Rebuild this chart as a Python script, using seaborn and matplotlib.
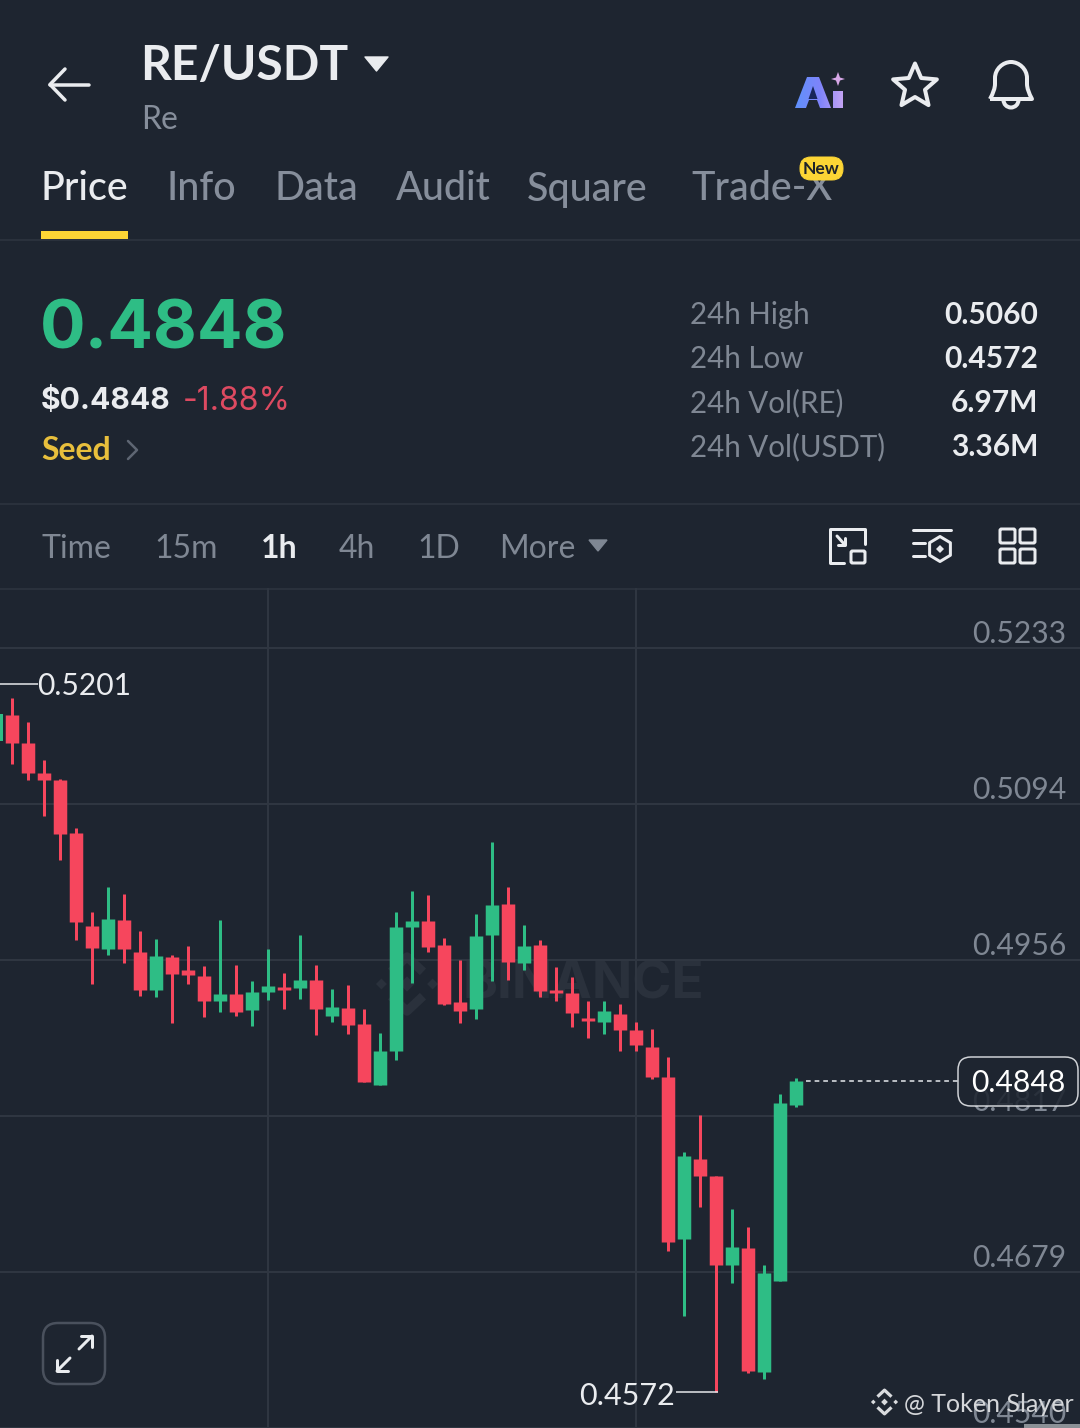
import matplotlib
matplotlib.use("Agg")
import matplotlib.pyplot as plt
import numpy as np
import pandas as pd
import seaborn as sns
from matplotlib.colors import LinearSegmentedColormap
from matplotlib.patches import Arc, FancyBboxPatch, PathPatch, Polygon, Rectangle
from matplotlib.path import Path

# hourly candles, left edge to last one
slots = list(range(-1, 50))
opens = [0.51506, 0.51735, 0.51483, 0.51217, 0.51157, 0.50684, 0.4986, 0.49653, 0.49913, 0.49629,
         0.49291, 0.49582, 0.49472, 0.49413, 0.49191, 0.49253, 0.49114, 0.49274, 0.49321, 0.49312,
         0.4938, 0.4906, 0.49131, 0.48989, 0.4845, 0.48752, 0.49854, 0.49904, 0.49691, 0.49182,
         0.49123, 0.49783, 0.50055, 0.49531, 0.49691, 0.49294, 0.49262, 0.49043, 0.4901, 0.49081,
         0.48933, 0.48788, 0.48521, 0.47079, 0.47787, 0.47639, 0.46848, 0.46996, 0.45897, 0.46709,
         0.48272]
closes = [0.51746, 0.51489, 0.51217, 0.51157, 0.50677, 0.49893, 0.49664, 0.49922, 0.49653, 0.49291,
          0.49593, 0.49433, 0.49425, 0.49194, 0.49253, 0.49099, 0.49274, 0.49324, 0.49294, 0.4938,
          0.49123, 0.49143, 0.4898, 0.48471, 0.48749, 0.49851, 0.49904, 0.49673, 0.4917, 0.49102,
          0.49771, 0.50044, 0.4954, 0.49682, 0.4928, 0.49267, 0.4909, 0.49016, 0.49102, 0.48939,
          0.488, 0.48521, 0.4705, 0.47819, 0.47641, 0.46848, 0.47005, 0.45906, 0.46777, 0.48287,
          0.4848]
highs = [0.51797, 0.51888, 0.51675, 0.51335, 0.51166, 0.50733, 0.49982, 0.50204, 0.50144, 0.49813,
         0.49742, 0.496, 0.49682, 0.49505, 0.49913, 0.49513, 0.49371, 0.49656, 0.49442, 0.49783,
         0.49513, 0.49303, 0.49336, 0.49123, 0.48909, 0.49982, 0.50174, 0.50135, 0.49756, 0.49561,
         0.49964, 0.50606, 0.50204, 0.49872, 0.49733, 0.49493, 0.49404, 0.49191, 0.49191, 0.49164,
         0.49004, 0.48942, 0.48693, 0.47855, 0.48178, 0.47639, 0.47348, 0.47188, 0.46845, 0.48367,
         0.48507]
lows = [0.51468, 0.51297, 0.51157, 0.5084, 0.50446, 0.49736, 0.49345, 0.49602, 0.49529, 0.49241,
        0.49232, 0.49001, 0.49345, 0.49054, 0.49099, 0.49063, 0.48971, 0.49205, 0.4912, 0.49214,
        0.48889, 0.49007, 0.489, 0.48471, 0.4845, 0.48669, 0.49354, 0.49632, 0.49161, 0.49001,
        0.49031, 0.49371, 0.4938, 0.49469, 0.49232, 0.49191, 0.4896, 0.48868, 0.489, 0.48749,
        0.48749, 0.48503, 0.46975, 0.46395, 0.47366, 0.4572, 0.46685, 0.45886, 0.45838, 0.46709,
        0.48252]

price_ticks = [0.5233, 0.5094, 0.4956, 0.4817, 0.4679, 0.4540]
time_grid_slots = [16, 39]
marked_high = 0.5201

tabs = ["Price", "Info", "Data", "Audit", "Square", "Trade-X"]
tab_left = [41, 166, 274, 396, 527, 691]
stat_names = ["24h High", "24h Low", "24h Vol(RE)", "24h Vol(USDT)"]
stat_values = ["0.5060", "0.4572", "6.97M", "3.36M"]
intervals = ["Time", "15m", "1h", "4h", "1D", "More"]
interval_left = [41, 154, 261, 339, 417, 499]

BG = "#1e2530"
GRID = "#2f3641"
RED = "#f6465d"
GREEN = "#2ebd85"
GREY = "#868e9b"
AXIS_GREY = "#7f8793"
WHITE = "#eaecef"
YELLOW = "#fcd535"

W, H = 1080, 1428
CHART_TOP = 588
# the price axis spans y pixel 1428 (0.4540) up to pixel 588
PRICE_MAX = 0.52863
PRICE_MIN = 0.4540
SLOT_MIN = -12.4 / 16
SLOT_MAX = (W - 12.4) / 16
BODY_PX = 13.5


def px(size):
    return size * 0.72


def slot_at(x):
    return (x - 12.4) / 16


def label(ax, x, y, s, size, color=WHITE, weight="normal", ha="left", va="center", **kw):
    # Lato sits about 2 px high when centred on its box
    return ax.text(x, y + 2, s, fontsize=px(size), color=color, fontweight=weight, ha=ha, va=va, **kw)


def stroke(ax, xs, ys, color=WHITE, width=3.5, cap="round"):
    ax.plot(xs, ys, color=color, lw=px(width), solid_capstyle=cap, solid_joinstyle="round")


def rounded_box(ax, x0, y0, x1, y1, radius, edge, width, face="none", alpha=None, zorder=3):
    ax.add_patch(FancyBboxPatch((x0 + radius, y0 + radius), x1 - x0 - 2 * radius, y1 - y0 - 2 * radius,
                                boxstyle=f"round,pad={radius}", ec=edge, fc=face, lw=px(width),
                                alpha=alpha, zorder=zorder))


def exchange_logo(ax, cx, cy, r, color, width):
    for dx, size in [(0, 0.24), (-0.8, 0.17), (0.8, 0.17)]:
        ax.add_patch(Polygon([(cx + (dx - size) * r, cy), (cx + dx * r, cy - size * r),
                              (cx + (dx + size) * r, cy), (cx + dx * r, cy + size * r)], fc=color, ec="none"))
    for sign in [-1, 1]:
        stroke(ax, [cx - 0.5 * r, cx, cx + 0.5 * r], [cy + sign * 0.38 * r, cy + sign * 0.85 * r, cy + sign * 0.38 * r],
               color, width, "butt")


def pixel_axes(fig, zorder):
    ax = fig.add_axes([0, 0, 1, 1], zorder=zorder)
    ax.set_xlim(0, W)
    ax.set_ylim(H, 0)
    ax.axis("off")
    ax.patch.set_alpha(0)
    return ax


def draw_ai_icon(ax):
    letter_a = Path([(795, 108), (807, 77), (819, 77), (831, 108), (795, 108)], closed=True)
    letter_i = Path([(833, 91), (843, 91), (843, 108), (833, 108), (833, 91)], closed=True)
    shape = PathPatch(Path.make_compound_path(letter_a, letter_i), transform=ax.transData, fc="none", ec="none")
    ax.add_patch(shape)
    ramp = LinearSegmentedColormap.from_list("ai", ["#5f90fb", "#7f84fa", "#c9a6f3"])
    image = ax.imshow(np.linspace(0, 1, 64).reshape(1, -1), extent=(795, 845, 108, 76), cmap=ramp,
                      aspect="auto", zorder=3)
    image.set_clip_path(shape)
    ax.set_xlim(0, W)
    ax.set_ylim(H, 0)
    ax.add_patch(Polygon([(813, 86), (817.5, 99), (808.5, 99)], fc="#18265a", ec="none", zorder=4))
    ax.add_patch(Polygon([(809, 100), (817, 100), (820, 108), (806, 108)], fc=BG, ec="none", zorder=4))
    ax.add_patch(Polygon([(838, 72), (840, 77.5), (845, 79), (840, 80.5), (838, 86), (836, 80.5), (831, 79), (836, 77.5)],
                         fc="#d8a8e8", ec="none"))


def draw_header(ax):
    stroke(ax, [89, 50], [84.5, 84.5])
    stroke(ax, [65, 50, 65], [69, 84.5, 100])
    label(ax, 140, 64, "RE/USDT", 48, WHITE, "bold")
    ax.add_patch(Polygon([(365, 57), (388, 57), (376.5, 71)], fc=WHITE, ec=WHITE, lw=1, joinstyle="round"))
    label(ax, 141, 118, "Re", 32, GREY)

    draw_ai_icon(ax)

    angles = np.deg2rad(-90 + 36 * np.arange(10))
    radii = np.where(np.arange(10) % 2 == 0, 23, 10.5)
    ax.add_patch(Polygon(np.c_[915 + radii * np.cos(angles), 86.5 + radii * np.sin(angles)], closed=True,
                         fc="none", ec=WHITE, lw=px(4), joinstyle="round"))

    bell = Path([(990, 99), (1032, 99), (1027, 90), (1027, 84), (1027, 78), (1027, 69), (1019, 62), (1011, 62),
                 (1003, 62), (995, 69), (995, 78), (995, 84), (995, 90), (990, 99)],
                [Path.MOVETO, Path.LINETO, Path.CURVE3, Path.CURVE3, Path.LINETO, Path.CURVE4, Path.CURVE4, Path.CURVE4,
                 Path.CURVE4, Path.CURVE4, Path.CURVE4, Path.LINETO, Path.CURVE3, Path.CURVE3])
    ax.add_patch(PathPatch(bell, fc="none", ec=WHITE, lw=px(4), joinstyle="round"))
    ax.add_patch(Arc((1011, 100), 15, 15, theta1=0, theta2=180, ec=WHITE, lw=px(4)))

    for name, x in zip(tabs, tab_left):
        label(ax, x, 187, name, 39.5, WHITE if name == "Price" else GREY, "medium")
    rounded_box(ax, 800, 157, 843, 180, 11, YELLOW, 1, YELLOW, zorder=4)
    label(ax, 821.5, 167, "New", 17.5, "#1e2329", "bold", ha="center", zorder=5)
    ax.add_patch(Rectangle((41, 231), 87, 8, fc=YELLOW, ec="none"))
    ax.axhline(239.5, color=GRID, lw=px(1.5))


def draw_summary(ax):
    ax.text(40, 331, "0.4848", fontsize=px(67.5), color=GREEN, fontweight="bold", family=["Inter", "DejaVu Sans"],
            ha="left", va="center")
    ax.text(41, 401, "$0.4848", fontsize=px(30), color=WHITE, fontweight="bold", family=["Inter", "DejaVu Sans"],
            ha="left", va="center")
    ax.text(183, 401, "-1.88%", fontsize=px(32), color="#de4a61", family=["Inter", "DejaVu Sans"],
            ha="left", va="center")
    label(ax, 41, 449, "Seed", 32, "#e8bf3c", "bold")
    stroke(ax, [128, 137, 128], [441, 450, 459], "#5e6673", 2.5)
    for name, value, y in zip(stat_names, stat_values, [313, 357, 401, 445]):
        label(ax, 690, y, name, 29.5, AXIS_GREY)
        label(ax, 1038.5, y, value, 30, WHITE, "bold", ha="right")
    ax.axhline(503.5, color=GRID, lw=px(1.5))


def draw_interval_bar(ax):
    for name, x in zip(intervals, interval_left):
        active = name == "1h"
        label(ax, x, 547, name, 32, WHITE if active else AXIS_GREY, "bold" if active else "normal")
    ax.add_patch(Polygon([(589, 540), (607, 540), (598, 551)], fc=AXIS_GREY, ec=AXIS_GREY, lw=1))

    # chart tool icons
    stroke(ax, [844, 830, 830, 865, 865], [563, 563, 529, 529, 544], WHITE, 3)
    rounded_box(ax, 851, 551, 865, 563, 1.5, WHITE, 3)
    stroke(ax, [837, 845], [536, 545], WHITE, 3)
    stroke(ax, [845, 845, 838], [538, 545, 545], WHITE, 3)

    stroke(ax, [913, 951], [530, 530], WHITE, 3)
    stroke(ax, [913, 925], [543, 543], WHITE, 3)
    stroke(ax, [913, 925], [556, 556], WHITE, 3)
    hex_angles = np.deg2rad(-90 + 60 * np.arange(6))
    ax.add_patch(Polygon(np.c_[940 + 12 * np.cos(hex_angles), 549 + 12.5 * np.sin(hex_angles)], closed=True,
                         fc="none", ec=WHITE, lw=px(3), joinstyle="round"))
    ax.add_patch(Polygon([(940, 545), (944, 549), (940, 553), (936, 549)], fc=WHITE, ec="none"))

    for x0 in [1000, 1020]:
        for y0 in [529, 549]:
            rounded_box(ax, x0, y0, x0 + 15, y0 + 14, 1.5, WHITE, 3)
    ax.axhline(588.5, color=GRID, lw=px(1.5))


def draw_candles(ax):
    frame = pd.DataFrame({"slot": slots, "open": opens, "close": closes, "high": highs, "low": lows})
    frame["direction"] = np.where(frame["close"] >= frame["open"], "up", "down")
    palette = {"up": GREEN, "down": RED}
    wicks = frame.melt(id_vars=["slot", "direction"], value_vars=["high", "low"], value_name="price")
    bodies = frame.melt(id_vars=["slot", "direction"], value_vars=["open", "close"], value_name="price")
    sns.lineplot(data=wicks, x="slot", y="price", hue="direction", palette=palette, units="slot", estimator=None,
                 sort=False, legend=False, lw=px(3), solid_capstyle="butt", ax=ax, zorder=3)
    sns.lineplot(data=bodies, x="slot", y="price", hue="direction", palette=palette, units="slot", estimator=None,
                 sort=False, legend=False, lw=px(BODY_PX), solid_capstyle="butt", ax=ax, zorder=4)
    # first candle is centred off the canvas, so agg drops its line; a bar still shows the visible half
    ax.bar(slots[0], closes[0] - opens[0], bottom=opens[0], width=BODY_PX / 16, color=GREEN, linewidth=0, zorder=4)


def draw_chart(ax):
    draw_candles(ax)
    ax.set_xlim(SLOT_MIN, SLOT_MAX)
    ax.set_ylim(PRICE_MIN, PRICE_MAX)
    ax.set_xticks(time_grid_slots)
    ax.set_yticks(price_ticks)
    ax.set_xticklabels([])
    ax.set_yticklabels([])
    ax.set_xlabel("")
    ax.set_ylabel("")
    ax.tick_params(length=0)
    ax.grid(True, color=GRID, lw=px(2))
    ax.set_axisbelow(True)
    ax.patch.set_alpha(0)
    for spine in ax.spines.values():
        spine.set_visible(False)

    for tick in price_ticks:
        ax.annotate(f"{tick:.4f}", xy=(1, tick), xycoords=ax.get_yaxis_transform(), xytext=(-px(14), px(14)),
                    textcoords="offset points", ha="right", va="center", fontsize=px(30), color=AXIS_GREY, zorder=5)

    ax.hlines(marked_high, SLOT_MIN, slot_at(38), color=WHITE, lw=px(1.5), zorder=5)
    ax.annotate(f"{marked_high:.4f}", xy=(slot_at(37.5), marked_high), xytext=(0, -px(2)), textcoords="offset points",
                fontsize=px(30), color=WHITE, ha="left", va="center", zorder=5)
    low_slot = slots[int(np.argmin(lows))]
    ax.hlines(min(lows), slot_at(676), low_slot + 0.1, color=WHITE, lw=px(1.5), zorder=5)
    ax.annotate(f"{min(lows):.4f}", xy=(slot_at(674.5), min(lows)), xytext=(0, -px(4)), textcoords="offset points",
                fontsize=px(30.5), color=WHITE, ha="right", va="center", zorder=5)
    ax.hlines(closes[-1], slot_at(806), slot_at(958), color="#c9ccd1", lw=px(1.8), linestyles=(0, (2.6, 2.2)), zorder=5)


def draw_overlay(ax):
    rounded_box(ax, 958, 1057, 1078, 1106, 13, WHITE, 1.5, BG, alpha=0.88, zorder=6)
    label(ax, 1018.5, 1081.5, f"{closes[-1]:.4f}", 30, "#ffffff", ha="center", zorder=7)

    rounded_box(ax, 43, 1323, 105, 1384, 15, "#4a515d", 2.5)
    stroke(ax, [57, 70], [1371, 1358], WHITE, 3)
    stroke(ax, [57, 57, 68], [1360, 1371, 1371], WHITE, 3)
    stroke(ax, [79, 92], [1349, 1336], WHITE, 3)
    stroke(ax, [81, 92, 92], [1336, 1336, 1347], WHITE, 3)

    exchange_logo(ax, 884.5, 1402, 14, "#d9dbde", 3.2)
    label(ax, 904, 1402, "@ Token Slayer", 25, "#d5d7da")
    ax.add_patch(Rectangle((1024, 1424), 56, 4, fc="#8b9096", ec="none"))


def main():
    sns.set_theme(style="dark", rc={"figure.facecolor": BG, "axes.facecolor": BG, "savefig.facecolor": BG})
    plt.rcParams["font.family"] = ["Lato", "DejaVu Sans"]

    fig = plt.figure(figsize=(W / 100, H / 100), dpi=100)
    under = pixel_axes(fig, 0)
    draw_header(under)
    draw_summary(under)
    draw_interval_bar(under)
    exchange_logo(under, 407, 984, 32, "#2a313c", 9)
    under.text(462, 985, "BINANCE", fontsize=px(53), color="#2a313c", fontweight="bold",
               family=["Inter", "DejaVu Sans"], ha="left", va="center")

    chart = fig.add_axes([0, 0, 1, (H - CHART_TOP) / H], zorder=1)
    draw_chart(chart)

    over = pixel_axes(fig, 2)
    draw_overlay(over)

    fig.savefig("out.png", dpi=100)
    plt.close(fig)


if __name__ == "__main__":
    main()
